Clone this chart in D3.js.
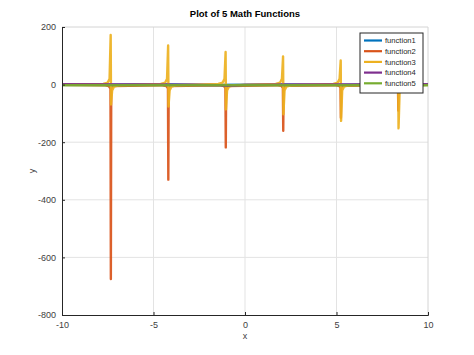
<!DOCTYPE html>
<html><head><meta charset="utf-8">
<script src="https://cdn.jsdelivr.net/npm/d3@7"></script>
<style>body{margin:0;background:#fff}svg{display:block}text{font-family:"Liberation Sans",Arial,sans-serif}</style>
</head><body>
<script>
// ---- data ----
const xTicks = [-10, -5, 0, 5, 10];
const yTicks = [200, 0, -200, -400, -600, -800];
const seriesNames = ["function1", "function2", "function3", "function4", "function5"];
const seriesColors = ["#0072BD", "#D95319", "#EDB120", "#7E2F8E", "#77AC30"];

const f1x = [-10, -8, -6, -4, -2, 0, 2, 4, 6, 8, 10];
const f1y = [0.5, -1, 0.3, 0.8, -0.9, 0, 0.9, -0.8, -0.3, 1, -0.5];

const f2x = [-10, -7.7, -7.45, -7.35, -7.33, -7.31, -7.2, -4.6, -4.3, -4.21, -4.19, -4.17, -4.08,
             -1.4, -1.15, -1.07, -1.05, -1.03, -0.95, 1.7, 1.98, 2.07, 2.09, 2.11, 2.2,
             4.9, 5.13, 5.22, 5.24, 5.26, 5.35, 8.0, 8.28, 8.36, 8.38, 8.40, 8.5, 10];
const f2y = [-1, -2, -5, -14, -675, -14, -5, -2, -5, -13, -330, -13, -5,
             -2, -5, -12, -218, -12, -5, -2, -4, -11, -160, -11, -4,
             -2, -4, -10, -115, -10, -4, -2, -4, -9, -90, -9, -4, -1];

const f3x = [-10, -7.75, -7.5, -7.4, -7.34, -7.32, -7.26, -7.16, -6.9,
             -4.6, -4.36, -4.26, -4.20, -4.18, -4.12, -4.02, -3.78,
             -1.46, -1.22, -1.12, -1.06, -1.04, -0.98, -0.88, -0.64,
             1.68, 1.92, 2.02, 2.08, 2.10, 2.16, 2.26, 2.5,
             4.83, 5.07, 5.17, 5.23, 5.25, 5.31, 5.41, 5.65,
             7.97, 8.21, 8.31, 8.37, 8.39, 8.45, 8.55, 8.79, 10];
const f3y = [1, 2.5, 7, 20, 172, -69, -20, -7, -2.5,
             2.5, 7, 20, 136, -76, -20, -7, -2.5,
             2.5, 7, 20, 113, -86, -20, -7, -2.5,
             2.5, 7, 20, 98, -103, -20, -7, -2.5,
             2.5, 7, 20, 84, -126, -20, -7, -2.5,
             2.5, 7, 20, 75, -152, -20, -7, -2.5, -1];

const f4x = [-10, -6, -3, -1.5, -1, -0.5, 0, 3, 6, 10];
const f4y = [1, 0.5, -0.5, -2, -4, -3, -1, 0.5, 0.8, 1];

const f5x = [-10, -5, 0, 5, 10];
const f5y = [-2, -2, -2, -2, -2];

const seriesX = [f1x, f2x, f3x, f4x, f5x];
const seriesY = [f1y, f2y, f3y, f4y, f5y];

// ---- layout ----
const W = 474, H = 355;
const L = 62, R = 428, T = 27, B = 315;
const svg = d3.select("body").append("svg").attr("width", W).attr("height", H);
const x = d3.scaleLinear().domain([-10, 10]).range([L, R]);
const y = d3.scaleLinear().domain([-800, 200]).range([B, T]);

// grid
svg.append("g").selectAll("line").data(xTicks.slice(1, -1)).join("line")
  .attr("x1", d => x(d)).attr("x2", d => x(d)).attr("y1", T).attr("y2", B)
  .attr("stroke", "#e3e3e3").attr("stroke-width", 1);
svg.append("g").selectAll("line").data(yTicks.slice(1, -1)).join("line")
  .attr("y1", d => y(d)).attr("y2", d => y(d)).attr("x1", L).attr("x2", R)
  .attr("stroke", "#e3e3e3").attr("stroke-width", 1);
// top/right box
svg.append("path").attr("d", `M${L},${T}H${R}V${B}`).attr("fill", "none")
  .attr("stroke", "#d4d4d4").attr("stroke-width", 1);

// lines
const clip = svg.append("clipPath").attr("id", "clp").append("rect")
  .attr("x", L).attr("y", T).attr("width", R - L).attr("height", B - T);
const lg = svg.append("g").attr("clip-path", "url(#clp)");
const line = d3.line().x(d => x(d[0])).y(d => y(d[1]));
seriesNames.forEach((n, i) => {
  const pts = seriesX[i].map((v, j) => [v, seriesY[i][j]]);
  lg.append("path").attr("d", line(pts)).attr("fill", "none")
    .attr("stroke", seriesColors[i]).attr("stroke-width", 2.4)
    .attr("stroke-linejoin", "round").attr("opacity", 0.92);
});

// axes
const fmt = d => String(d);
const ax = svg.append("g").attr("transform", `translate(0,${B})`)
  .call(d3.axisBottom(x).tickValues(xTicks).tickFormat(fmt).tickSize(-3).tickPadding(7));
const ay = svg.append("g").attr("transform", `translate(${L},0)`)
  .call(d3.axisLeft(y).tickValues(yTicks).tickFormat(fmt).tickSize(-3).tickPadding(6));
[ax, ay].forEach(g => {
  g.select(".domain").attr("stroke", "#262626");
  g.selectAll(".tick line").attr("stroke", "#262626");
  g.selectAll("text").attr("fill", "#404040").style("font-size", "9px")
    .style("font-family", '"Liberation Sans",Arial,sans-serif');
});
ax.selectAll("text").attr("dy", "0.71em");

// labels
svg.append("text").attr("x", (L + R) / 2).attr("y", 17).attr("text-anchor", "middle")
  .style("font-size", "9.5px").style("font-weight", "bold").attr("fill", "#000")
  .text("Plot of 5 Math Functions");
svg.append("text").attr("x", (L + R) / 2).attr("y", 339).attr("text-anchor", "middle")
  .style("font-size", "9px").attr("fill", "#404040").text("x");
svg.append("text").attr("transform", `translate(35,${(T + B) / 2}) rotate(-90)`)
  .attr("text-anchor", "middle").style("font-size", "9px").attr("fill", "#404040").text("y");

// legend
const lgX = 360, lgY = 33, lgW = 63, lgH = 60;
const leg = svg.append("g");
leg.append("rect").attr("x", lgX).attr("y", lgY).attr("width", lgW).attr("height", lgH)
  .attr("fill", "#fff").attr("stroke", "#262626").attr("stroke-width", 1);
seriesNames.forEach((n, i) => {
  const yy = lgY + 7.5 + i * 10.7;
  leg.append("line").attr("x1", lgX + 4).attr("x2", lgX + 22).attr("y1", yy).attr("y2", yy)
    .attr("stroke", seriesColors[i]).attr("stroke-width", 2.2);
  leg.append("text").attr("x", lgX + 25).attr("y", yy).attr("dy", "0.35em")
    .style("font-size", "7.6px").attr("fill", "#262626").text(n);
});
</script>
</body></html>
